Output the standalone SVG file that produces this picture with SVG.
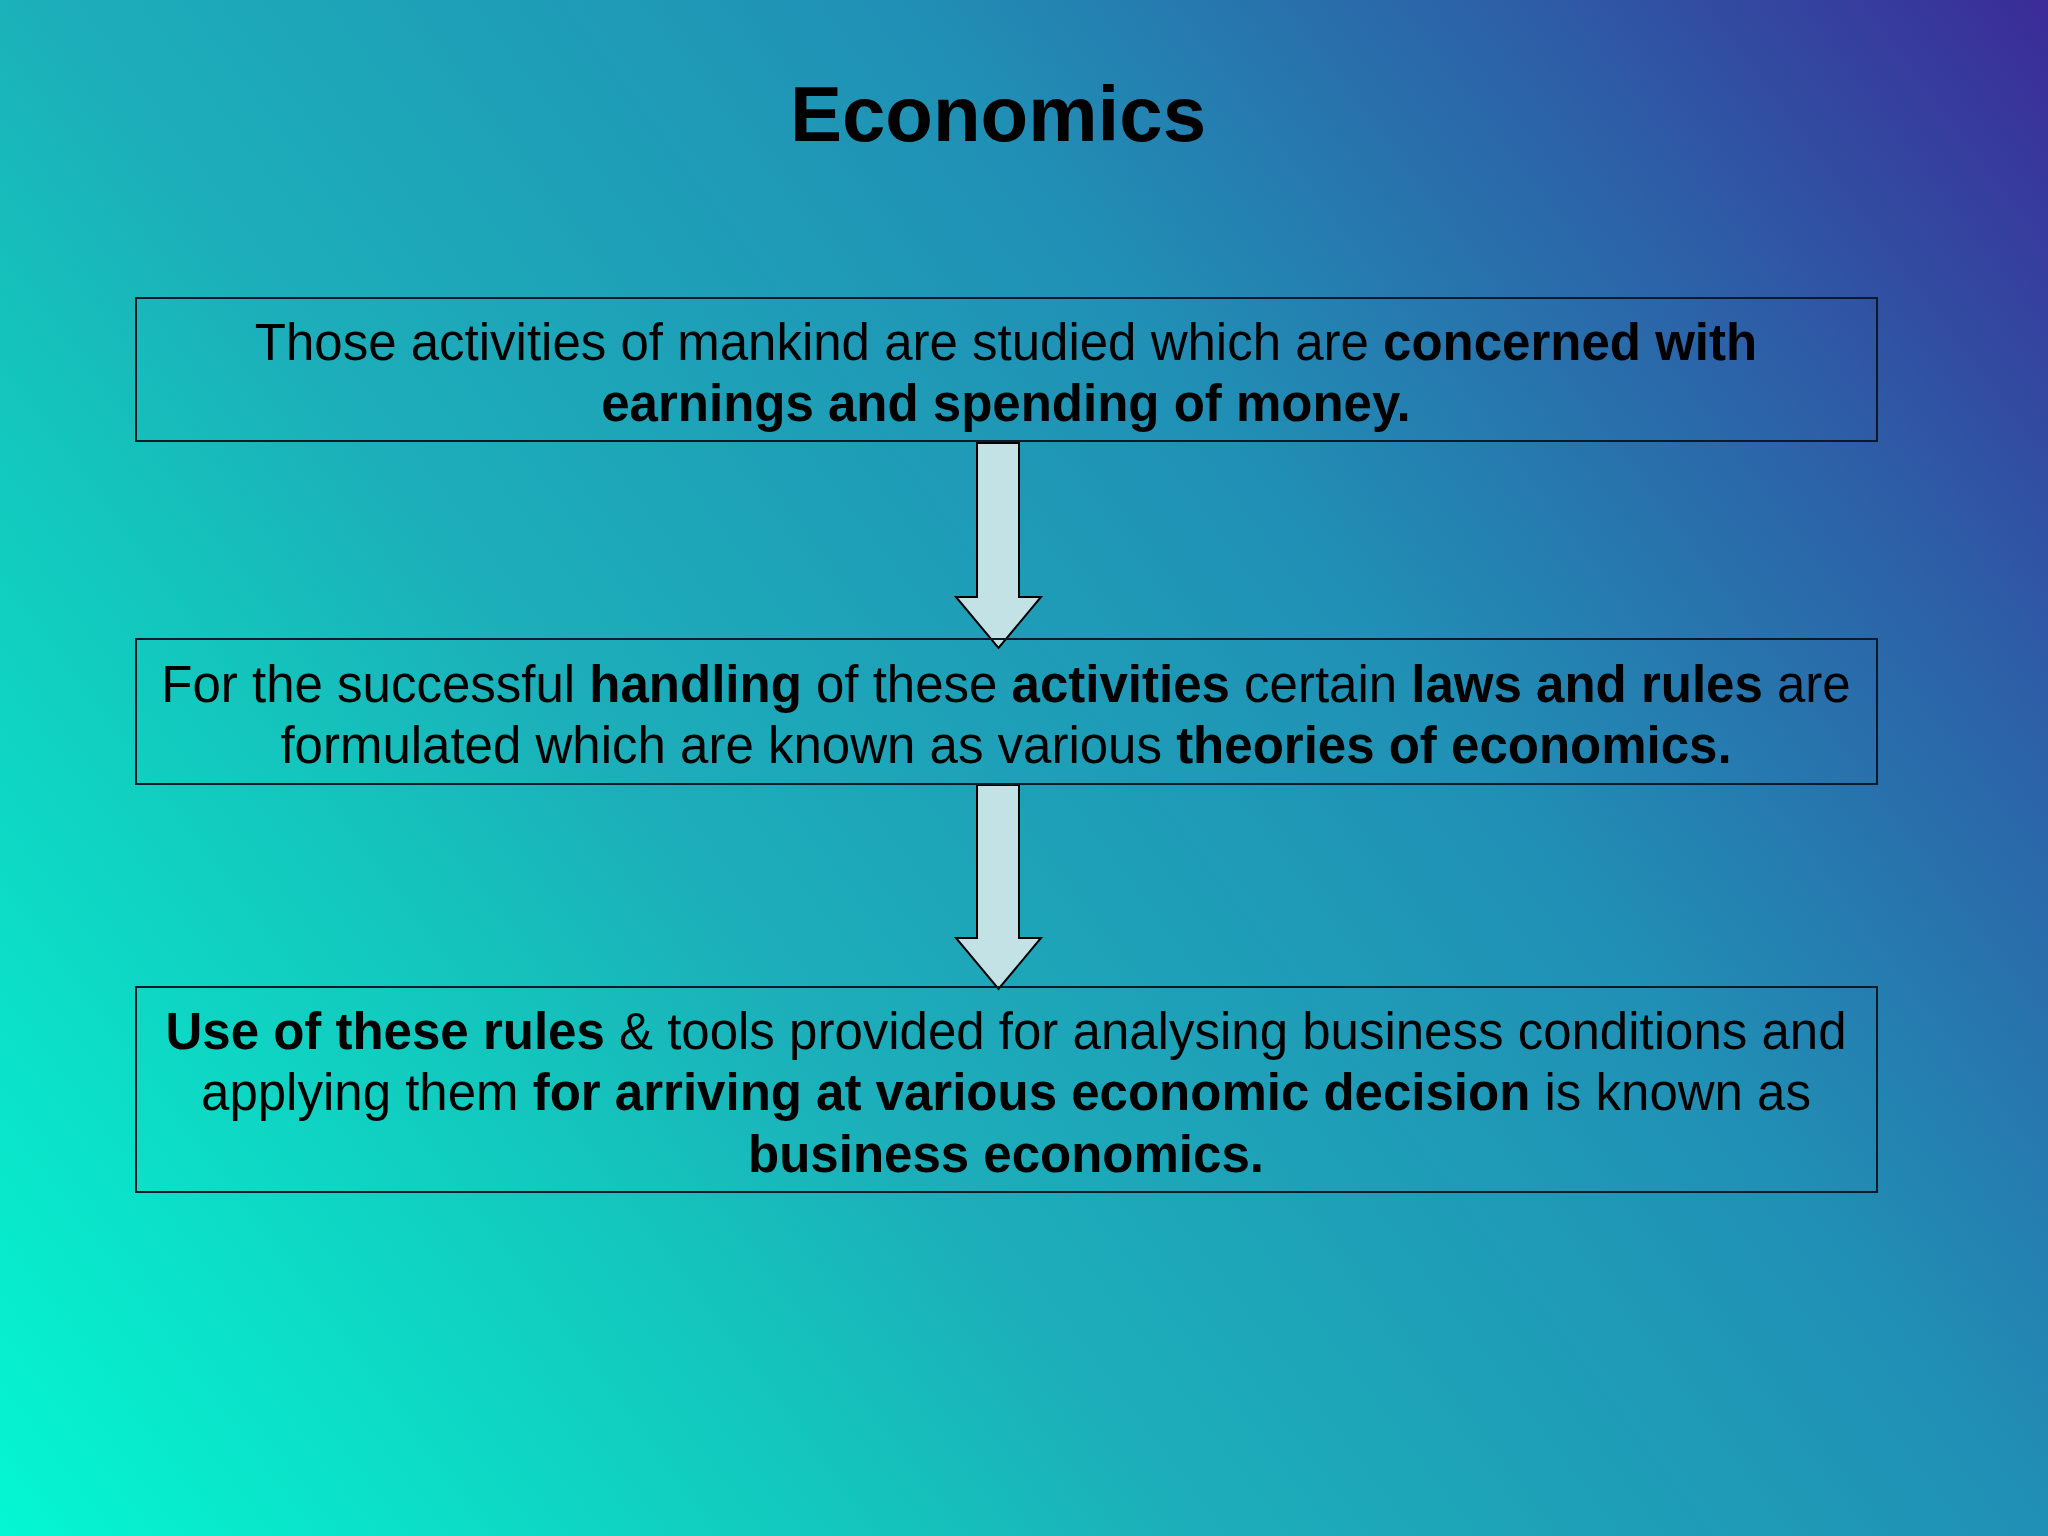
<svg xmlns="http://www.w3.org/2000/svg" width="2048" height="1536" viewBox="0 0 2048 1536">
<defs>
<linearGradient id="bg" gradientUnits="userSpaceOnUse" x1="0" y1="1536" x2="2048" y2="0">
<stop offset="0" stop-color="#04f7d2"/>
<stop offset="0.28" stop-color="#14c4bc"/>
<stop offset="0.37" stop-color="#1cafba"/>
<stop offset="0.64" stop-color="#2090b5"/>
<stop offset="0.82" stop-color="#2c62a8"/>
<stop offset="1" stop-color="#3b2b98"/>
</linearGradient>
<style>
.box{fill:none;stroke:#0a1a28;stroke-width:2}
.arrow{fill:#c2e2e6;stroke:#000;stroke-width:2;stroke-linejoin:miter}
.t{font-family:"Liberation Sans",Arial,sans-serif;font-size:51px;fill:#000;text-anchor:middle}
.b{font-weight:bold}
.title{font-family:"Liberation Sans",Arial,sans-serif;font-size:78px;font-weight:bold;fill:#000;text-anchor:middle}
</style>
</defs>
<rect x="0" y="0" width="2048" height="1536" fill="url(#bg)"/>
<text class="title" x="998" y="141">Economics</text>
<g id="connectors">
<path class="arrow" d="M977,443 L1019,443 L1019,597 L1041,597 L998.5,648 L956,597 L977,597 Z"/>
<path class="arrow" d="M977,785 L1019,785 L1019,938 L1041,938 L998.5,989 L956,938 L977,938 Z"/>
</g>
<g id="node1">
<rect class="box" x="136" y="298" width="1741" height="143"/>
<text class="t" x="1006" y="360">Those activities of mankind are studied which are <tspan class="b">concerned with</tspan></text>
<text class="t b" x="1006" y="421">earnings and spending of money.</text>
</g>
<g id="node2">
<rect class="box" x="136" y="639" width="1741" height="145"/>
<text class="t" x="1006" y="702">For the successful <tspan class="b">handling</tspan> of these <tspan class="b">activities</tspan> certain <tspan class="b">laws and rules</tspan> are</text>
<text class="t" x="1006" y="763">formulated which are known as various <tspan class="b">theories of economics.</tspan></text>
</g>
<g id="node3">
<rect class="box" x="136" y="987" width="1741" height="205"/>
<text class="t" x="1006" y="1049"><tspan class="b">Use of these rules</tspan> &amp; tools provided for analysing business conditions and</text>
<text class="t" x="1006" y="1110">applying them <tspan class="b">for arriving at various economic decision</tspan> is known as</text>
<text class="t b" x="1006" y="1172">business economics.</text>
</g>
</svg>
